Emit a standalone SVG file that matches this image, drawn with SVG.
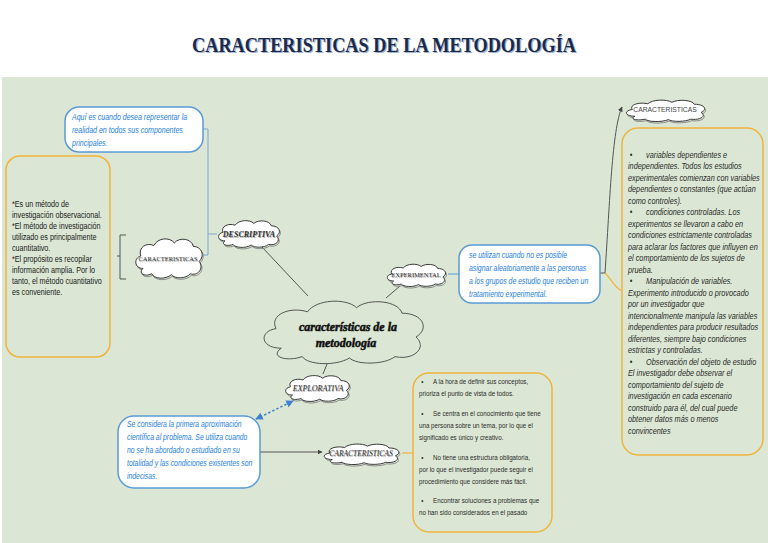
<svg xmlns="http://www.w3.org/2000/svg" xmlns:xlink="http://www.w3.org/1999/xlink" width="768" height="543" viewBox="0 0 768 543">
<style>
.panel{fill:#dbe7d4}
.obox{fill:none;stroke:#f0b43c;stroke-width:1.5}
.bbox{fill:#ffffff;stroke:#5b9bd5;stroke-width:1.5}
.cloud{fill:#ffffff;stroke:#3a3a3a}
.cloudsh{fill:none;stroke:#8a8a8a}
.bt{font-family:"Liberation Sans",Arial,sans-serif;font-style:italic;font-size:9.5px;fill:#1e7ee0}
.dt{font-family:"Liberation Sans",Arial,sans-serif;font-size:9px;fill:#1a1a1a}
.rt{font-family:"Liberation Sans",Arial,sans-serif;font-style:italic;font-size:8.5px;fill:#2a2a2a}
.ot{font-family:"Liberation Sans",Arial,sans-serif;font-size:8px;fill:#2a2a2a}
.cl{font-family:"Liberation Serif","Times New Roman",serif;fill:#333;text-anchor:middle}
.clsh{font-family:"Liberation Serif","Times New Roman",serif;fill:#aaa;text-anchor:middle}
.ln{fill:none;stroke:#555;stroke-width:1}
.tt{font-family:"Liberation Serif","Times New Roman",serif;font-weight:bold;font-size:20px}
</style>
<defs>
<path id="cloudp" vector-effect="non-scaling-stroke" d="M15,38 C3,38 2,26 12,24 C8,14 20,8 30,12 C35,3 52,2 58,9 C65,2 82,4 84,13 C96,13 100,24 92,30 C99,38 90,47 80,44 C74,50 58,50 54,45 C46,51 30,50 27,44 C18,48 8,44 15,38 Z"/>
<marker id="arr" viewBox="0 0 10 10" refX="9" refY="5" markerWidth="5" markerHeight="5" orient="auto">
<path d="M0,0 L10,5 L0,10 z" fill="#444"/>
</marker>
<marker id="barr" viewBox="0 0 10 10" refX="9" refY="5" markerWidth="5" markerHeight="5" orient="auto-start-reverse">
<path d="M0,0 L10,5 L0,10 z" fill="#3f7fd0"/>
</marker>
</defs>

<rect x="0" y="0" width="768" height="543" fill="#ffffff"/>
<rect class="panel" x="2" y="77" width="766" height="466"/>

<g id="title">
<text class="tt" x="193.2" y="53.2" fill="#9fb3d1" textLength="384" lengthAdjust="spacingAndGlyphs">CARACTERISTICAS DE LA METODOLOGÍA</text>
<text class="tt" x="192" y="52" fill="#1c2a4a" textLength="384" lengthAdjust="spacingAndGlyphs">CARACTERISTICAS DE LA METODOLOGÍA</text>
</g>

<g id="connectors">
<path d="M203,129 H208 V255 H203" fill="none" stroke="#7fa7d0" stroke-width="1"/>
<path d="M208,234 H217" fill="none" stroke="#7fa7d0" stroke-width="1"/>
<path d="M120,235 V279 M120,235 H126 M120,279 H126 M117,256 H120" fill="none" stroke="#555" stroke-width="1"/>
<line class="ln" x1="262" y1="247" x2="308" y2="296"/>
<line class="ln" x1="400" y1="286" x2="386" y2="298"/>
<line x1="448" y1="274" x2="459" y2="274" stroke="#5b9bd5" stroke-width="1"/>
<line x1="600" y1="273" x2="605" y2="273" stroke="#555" stroke-width="1"/>
<path class="ln" d="M605,273 C610,200 612,130 622,107" marker-end="url(#arr)"/>
<path d="M605,273 C612,280 615,288 622,291" fill="none" stroke="#f0b43c" stroke-width="1.2"/>
<line class="ln" x1="327" y1="364" x2="323" y2="374"/>
<line x1="256" y1="419" x2="293" y2="401" stroke="#3f7fd0" stroke-width="1.5" stroke-dasharray="2.5,2" marker-start="url(#barr)" marker-end="url(#barr)"/>
<line class="ln" x1="260" y1="452" x2="322" y2="452" marker-end="url(#arr)"/>
<line x1="402" y1="453" x2="413" y2="453" stroke="#f0b43c" stroke-width="1.2"/>
</g>

<g id="box-descriptiva-def">
<rect class="bbox" x="65" y="107" width="138" height="45" rx="14"/>
<g transform="translate(72 0) scale(0.74 1)">
<text class="bt" font-size="9"><tspan x="0" y="120">Aquí es cuando desea representar la</tspan><tspan x="0" y="133">realidad en todos sus componentes</tspan><tspan x="0" y="146">principales.</tspan></text>
</g>
</g>

<g id="box-descriptiva-car">
<rect class="obox" x="6" y="156" width="104" height="201" rx="14"/>
<g transform="translate(12 0) scale(0.8 1)">
<text class="dt"><tspan x="0" y="207">*Es un método de</tspan><tspan x="0" y="218">investigación observacional.</tspan><tspan x="0" y="229">*El método de investigación</tspan><tspan x="0" y="240">utilizado es principalmente</tspan><tspan x="0" y="251">cuantitativo.</tspan><tspan x="0" y="262">*El propósito es recopilar</tspan><tspan x="0" y="273">información amplia. Por lo</tspan><tspan x="0" y="284">tanto, el método cuantitativo</tspan><tspan x="0" y="295">es conveniente.</tspan></text>
</g>
</g>

<g id="cloud-car-left">
<use href="#cloudp" class="cloudsh" transform="translate(133 236.5) scale(0.73 0.88)"/>
<use href="#cloudp" class="cloud" transform="translate(132 235) scale(0.73 0.88)"/>
<text class="clsh" x="168.6" y="261.6" font-size="6.5">CARACTERISTICAS</text>
<text class="cl" x="168" y="261" font-size="6.5">CARACTERISTICAS</text>
</g>

<g id="cloud-descriptiva">
<use href="#cloudp" class="cloudsh" transform="translate(216 219.5) scale(0.67 0.6)"/>
<use href="#cloudp" class="cloud" transform="translate(215 218) scale(0.67 0.6)"/>
<text class="clsh" x="249.8" y="237.8" font-size="8" font-style="italic" font-weight="bold">DESCRIPTIVA</text>
<text class="cl" x="249" y="237" font-size="8" font-style="italic" font-weight="bold" fill="#222">DESCRIPTIVA</text>
</g>

<g id="cloud-center">
<use href="#cloudp" fill="none" stroke="#555" transform="translate(255 295) scale(1.75 1.4)"/>
<text text-anchor="middle" font-family="'Liberation Serif','Times New Roman',serif" font-weight="bold" font-style="italic" font-size="12" fill="#111" stroke="#111" stroke-width="0.5"><tspan x="348" y="331">características de la</tspan><tspan x="346" y="347">metodología</tspan></text>
</g>

<g id="cloud-experimental">
<use href="#cloudp" class="cloudsh" transform="translate(385 263.5) scale(0.64 0.5)"/>
<use href="#cloudp" class="cloud" transform="translate(384 262) scale(0.64 0.5)"/>
<text class="clsh" x="416.6" y="277.6" font-size="6.5">EXPERIMENTAL</text>
<text class="cl" x="416" y="277" font-size="6.5">EXPERIMENTAL</text>
</g>

<g id="box-experimental-def">
<rect class="bbox" x="459" y="245" width="141" height="58" rx="13"/>
<g transform="translate(469 0) scale(0.73 1)">
<text class="bt"><tspan x="0" y="258">se utilizan cuando no es posible</tspan><tspan x="0" y="271">asignar aleatoriamente a las personas</tspan><tspan x="0" y="284">a los grupos de estudio que reciben un</tspan><tspan x="0" y="297">tratamiento experimental.</tspan></text>
</g>
</g>

<g id="cloud-car-right">
<use href="#cloudp" class="cloudsh" transform="translate(623 99.5) scale(0.86 0.48)"/>
<use href="#cloudp" class="cloud" transform="translate(622 98) scale(0.86 0.48)"/>
<text x="665" y="112" text-anchor="middle" font-family="'Liberation Sans',Arial,sans-serif" font-size="7.5" fill="#444" transform="translate(665 0) scale(0.9 1) translate(-665 0)">CARACTERISTICAS</text>
</g>

<g id="box-experimental-car">
<rect class="obox" x="622" y="128" width="141" height="327" rx="16"/>
<g transform="translate(628 0) scale(0.86 1)">
<text class="rt">
<tspan x="2" y="158">•</tspan><tspan x="21" y="158">variables dependientes e</tspan>
<tspan x="0" y="169.5">independientes. Todos los estudios</tspan>
<tspan x="0" y="181">experimentales comienzan con variables</tspan>
<tspan x="0" y="192.5">dependientes o constantes (que actúan</tspan>
<tspan x="0" y="204">como controles).</tspan>
<tspan x="2" y="215.5">•</tspan><tspan x="21" y="215.5">condiciones controladas. Los</tspan>
<tspan x="0" y="227">experimentos se llevaron a cabo en</tspan>
<tspan x="0" y="238.5">condiciones estrictamente controladas</tspan>
<tspan x="0" y="250">para aclarar los factores que influyen en</tspan>
<tspan x="0" y="261.5">el comportamiento de los sujetos de</tspan>
<tspan x="0" y="273">prueba.</tspan>
<tspan x="2" y="284.5">•</tspan><tspan x="21" y="284.5">Manipulación de variables.</tspan>
<tspan x="0" y="296">Experimento introducido o provocado</tspan>
<tspan x="0" y="307.5">por un investigador que</tspan>
<tspan x="0" y="319">intencionalmente manipula las variables</tspan>
<tspan x="0" y="330.5">independientes para producir resultados</tspan>
<tspan x="0" y="342">diferentes, siempre bajo condiciones</tspan>
<tspan x="0" y="353.5">estrictas y controladas.</tspan>
<tspan x="2" y="365">•</tspan><tspan x="21" y="365">Observación del objeto de estudio</tspan>
<tspan x="0" y="376.5">El investigador debe observar el</tspan>
<tspan x="0" y="388">comportamiento del sujeto de</tspan>
<tspan x="0" y="399.5">investigación en cada escenario</tspan>
<tspan x="0" y="411">construido para él, del cual puede</tspan>
<tspan x="0" y="422.5">obtener datos más o menos</tspan>
<tspan x="0" y="434">convincentes</tspan>
</text>
</g>
</g>

<g id="cloud-explorativa">
<use href="#cloudp" class="cloudsh" transform="translate(283 374.5) scale(0.7 0.58)"/>
<use href="#cloudp" class="cloud" transform="translate(282 373) scale(0.7 0.58)"/>
<text class="clsh" x="318.6" y="391.6" font-size="8" font-style="italic">EXPLORATIVA</text>
<text class="cl" x="318" y="391" font-size="8" font-style="italic">EXPLORATIVA</text>
</g>

<g id="box-explorativa-def">
<rect class="bbox" x="118" y="416" width="142" height="72" rx="16"/>
<g transform="translate(127 0) scale(0.72 1)">
<text class="bt" font-size="9"><tspan x="0" y="427">Se considera la primera aproximación</tspan><tspan x="0" y="440">científica al problema. Se utiliza cuando</tspan><tspan x="0" y="453">no se ha abordado o estudiado en su</tspan><tspan x="0" y="466">totalidad y las condiciones existentes son</tspan><tspan x="0" y="479">indecisas.</tspan></text>
</g>
</g>

<g id="cloud-car-bottom">
<use href="#cloudp" class="cloudsh" transform="translate(321 443.5) scale(0.82 0.46)"/>
<use href="#cloudp" class="cloud" transform="translate(320 442) scale(0.82 0.46)"/>
<text class="clsh" x="361.6" y="456.6" font-size="7.5" font-style="italic">CARACTERISTICAS</text>
<text class="cl" x="361" y="456" font-size="7.5" font-style="italic">CARACTERISTICAS</text>
</g>

<g id="box-explorativa-car">
<rect class="obox" x="413" y="373" width="139" height="159" rx="16"/>
<g transform="translate(419 0) scale(0.78 1)">
<text class="ot">
<tspan x="3" y="384">•</tspan><tspan x="18" y="384">A la hora de definir sus conceptos,</tspan>
<tspan x="0" y="396">prioriza el punto de vista de todos.</tspan>
<tspan x="3" y="416">•</tspan><tspan x="18" y="416">Se centra en el conocimiento que tiene</tspan>
<tspan x="0" y="428">una persona sobre un tema, por lo que el</tspan>
<tspan x="0" y="440">significado es único y creativo.</tspan>
<tspan x="3" y="460">•</tspan><tspan x="18" y="460">No tiene una estructura obligatoria,</tspan>
<tspan x="0" y="472">por lo que el investigador puede seguir el</tspan>
<tspan x="0" y="484">procedimiento que considere más fácil.</tspan>
<tspan x="3" y="503">•</tspan><tspan x="18" y="503">Encontrar soluciones a problemas que</tspan>
<tspan x="0" y="515">no han sido considerados en el pasado</tspan>
</text>
</g>
</g>
</svg>
